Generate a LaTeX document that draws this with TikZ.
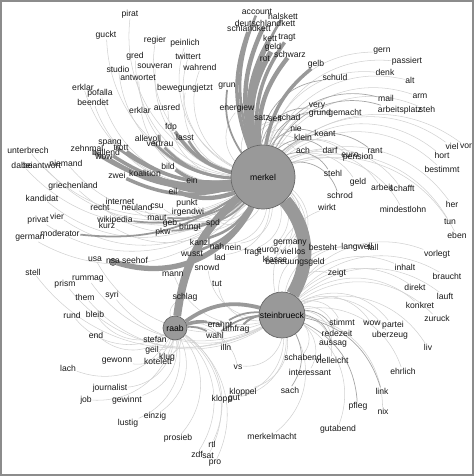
\documentclass[tikz,border=0pt]{standalone}
\usepackage{fontspec}
\setmainfont{Liberation Sans}
\usetikzlibrary{backgrounds}
\newcommand{\wordsize}{\fontsize{4.9}{5.5}\selectfont}

\begin{document}
\begin{tikzpicture}[
    x=0.02cm, y=-0.02cm,
    word/.style={inner sep=0.2pt, font=\wordsize, text=black!90},
    hub/.style={circle, draw=black!60, fill=black!40, inner sep=0pt, font=\wordsize},
    link/.style={draw=black!18, line width=0.3pt},
    linkd/.style={draw=black!35, line width=0.4pt},
    band/.style={draw=black!40}
]
    \useasboundingbox (0,0) rectangle (474,476);
    \draw[black!45, line width=1.2pt] (0.8,0.8) rectangle (473.2,475.2);

    % hubs
    \node[hub, minimum size=1.28cm] (merkel) at (263,177) {merkel};
    \node[hub, minimum size=0.92cm] (steinbrueck) at (282,315) {steinbrueck};
    \node[hub, minimum size=0.48cm] (raab) at (175,328) {raab};
    \node[hub, minimum size=0.14cm] (nsadot) at (113,262) {};
    \node[word] (nsa) at (113,261) {nsa};

    % top left
    \node[word] (pirat) at (130,14) {pirat};
    \node[word] (guckt) at (106,35) {guckt};
    \node[word] (regier) at (155,40) {regier};
    \node[word] (peinlich) at (185,43) {peinlich};
    \node[word] (twittert) at (188,56) {twittert};
    \node[word] (wahrend) at (200,67) {wahrend};
    \node[word] (gred) at (135,56) {gred};
    \node[word] (souveran) at (155,66) {souveran};
    \node[word] (studio) at (118,69) {studio};
    \node[word] (antwortet) at (138,78) {antwortet};
    \node[word] (bewegungjetzt) at (185,88) {bewegungjetzt};
    \node[word] (grun) at (227,86) {grun};
    \node[word] (erklar) at (83,87) {erklar};
    \node[word] (pofalla) at (100,93) {pofalla};
    \node[word] (beendet) at (93,102) {beendet};
    \node[word] (erklarb) at (140,110) {erklar};
    \node[word] (ausred) at (167,107) {ausred};
    \node[word] (energiew) at (237,108) {energiew};
    \node[word] (fdp) at (171,127) {fdp};
    \node[word] (lasst) at (185,137) {lasst};
    \node[word] (allevoll) at (148,138) {allevoll};
    \node[word] (vertrau) at (160,144) {vertrau};
    \node[word] (zehnmal) at (87,148) {zehnmal};
    \node[word] (spang) at (110,143) {spang};
    \node[word] (trott) at (121,148) {trott};
    \node[word] (ballend) at (106,152) {ballend};
    \node[word] (wow) at (104,157) {wow};
    \node[word] (unterbrech) at (28,150) {unterbrech};

    % top
    \node[word] (account) at (257,12) {account};
    \node[word] (halskett) at (283,16) {halskett};
    \node[word] (deutschlandkett) at (265,23) {deutschlandkett};
    \node[word] (schlandkett) at (249,28) {schlandkett};
    \node[word] (kett) at (270,38) {kett};
    \node[word] (tragt) at (287,38) {tragt};
    \node[word] (geld) at (273,47) {geld};
    \node[word] (schwarz) at (290,54) {schwarz};
    \node[word] (rot) at (265,59) {rot};
    \node[word] (gelb) at (316,64) {gelb};
    \node[word] (satz) at (262,118) {satz};
    \node[word] (seit) at (275,118) {seit};
    \node[word] (schad) at (289,117) {schad};
    \node[word] (very) at (317,106) {very};
    \node[word] (grund) at (320,113) {grund};
    \node[word] (gemacht) at (345,113) {gemacht};
    \node[word] (nie) at (296,128) {nie};
    \node[word] (klein) at (303,137) {klein};
    \node[word] (ach) at (303,150) {ach};

    % top right
    \node[word] (gern) at (382,51) {gern};
    \node[word] (passiert) at (407,61) {passiert};
    \node[word] (schuld) at (335,77) {schuld};
    \node[word] (denk) at (385,72) {denk};
    \node[word] (alt) at (410,80) {alt};
    \node[word] (mail) at (386,98) {mail};
    \node[word] (arm) at (420,96) {arm};
    \node[word] (arbeitsplatz) at (400,110) {arbeitsplatz};
    \node[word] (steh) at (427,109) {steh};
    \node[word] (koant) at (325,133) {koant};
    \node[word] (darf) at (330,150) {darf};
    \node[word] (rant) at (375,151) {rant};
    \node[word] (vielb) at (452,146) {viel};
    \node[word] (vor) at (466,146) {vor};
    \node[word] (hort) at (442,155) {hort};
    \node[word] (euro) at (350,155) {euro};
    \node[word] (pension) at (358,157) {pension};

    % right
    \node[word] (stehl) at (333,173) {stehl};
    \node[word] (bestimmt) at (442,169) {bestimmt};
    \node[word] (geldb) at (358,182) {geld};
    \node[word] (arbeit) at (382,187) {arbeit};
    \node[word] (schafft) at (402,188) {schafft};
    \node[word] (schrod) at (340,195) {schrod};
    \node[word] (her) at (452,204) {her};
    \node[word] (wirkt) at (327,207) {wirkt};
    \node[word] (mindestlohn) at (403,209) {mindestlohn};
    \node[word] (tun) at (450,222) {tun};
    \node[word] (eben) at (457,235) {eben};
    \node[word] (besteht) at (323,247) {besteht};
    \node[word] (langweil) at (357,247) {langweil};
    \node[word] (fall) at (373,247) {fall};
    \node[word] (vorlegt) at (437,254) {vorlegt};
    \node[word] (inhalt) at (405,267) {inhalt};
    \node[word] (zeigt) at (337,273) {zeigt};
    \node[word] (braucht) at (447,276) {braucht};
    \node[word] (direkt) at (415,287) {direkt};
    \node[word] (lauft) at (445,296) {lauft};
    \node[word] (konkret) at (420,305) {konkret};
    \node[word] (zuruck) at (437,318) {zuruck};

    % left
    \node[word] (dabei) at (22,165) {dabei};
    \node[word] (beantwort) at (42,165) {beantwort};
    \node[word] (niemand) at (66,163) {niemand};
    \node[word] (zwei) at (117,175) {zwei};
    \node[word] (koalition) at (145,173) {koalition};
    \node[word] (bild) at (168,166) {bild};
    \node[word] (ein) at (192,180) {ein};
    \node[word] (eil) at (173,191) {eil};
    \node[word] (griechenland) at (73,186) {griechenland};
    \node[word] (kandidat) at (42,198) {kandidat};
    \node[word] (internet) at (120,201) {internet};
    \node[word] (recht) at (100,207) {recht};
    \node[word] (neuland) at (137,207) {neuland};
    \node[word] (csu) at (157,206) {csu};
    \node[word] (punkt) at (187,203) {punkt};
    \node[word] (irgendwi) at (188,212) {irgendwi};
    \node[word] (maut) at (157,218) {maut};
    \node[word] (geb) at (170,223) {geb};
    \node[word] (bringt) at (190,227) {bringt};
    \node[word] (spd) at (213,223) {spd};
    \node[word] (pkw) at (163,232) {pkw};
    \node[word] (wikipedia) at (115,220) {wikipedia};
    \node[word] (kurz) at (107,225) {kurz};
    \node[word] (privat) at (38,220) {privat};
    \node[word] (vier) at (57,216) {vier};
    \node[word] (moderator) at (60,233) {moderator};
    \node[word] (german) at (30,238) {german};
    \node[word] (usa) at (95,259) {usa};
    \node[word] (seehof) at (135,260) {seehof};
    \node[word] (stell) at (33,272) {stell};
    \node[word] (rummag) at (88,279) {rummag};
    \node[word] (prism) at (65,284) {prism};
    \node[word] (them) at (85,297) {them};
    \node[word] (syri) at (112,295) {syri};
    \node[word] (rund) at (72,315) {rund};
    \node[word] (bleib) at (95,314) {bleib};

    % centre
    \node[word] (kanzl) at (200,242) {kanzl};
    \node[word] (nah) at (217,246) {nah};
    \node[word] (nein) at (233,247) {nein};
    \node[word] (wusst) at (192,254) {wusst};
    \node[word] (lad) at (220,257) {lad};
    \node[word] (snowd) at (207,267) {snowd};
    \node[word] (fragt) at (253,252) {fragt};
    \node[word] (europ) at (268,251) {europ};
    \node[word] (germany) at (290,243) {germany};
    \node[word] (viel) at (287,251) {viel};
    \node[word] (los) at (300,251) {los};
    \node[word] (klasse) at (275,259) {klasse};
    \node[word] (betreuungsgeld) at (295,262) {betreuungsgeld};
    \node[word] (mann) at (173,274) {mann};
    \node[word] (tut) at (217,284) {tut};
    \node[word] (schlag) at (185,297) {schlag};

    % bottom
    \node[word] (erahnt) at (220,324) {erahnt};
    \node[word] (umfrag) at (236,329) {umfrag};
    \node[word] (wahl) at (215,335) {wahl};
    \node[word] (illn) at (226,347) {illn};
    \node[word] (vs) at (238,367) {vs};
    \node[word] (schabend) at (303,357) {schabend};
    \node[word] (vielleicht) at (332,360) {vielleicht};
    \node[word] (interessant) at (310,372) {interessant};
    \node[word] (sach) at (290,390) {sach};
    \node[word] (kloppel) at (243,392) {kloppel};
    \node[word] (klopp) at (222,399) {klopp};
    \node[word] (gut) at (234,399) {gut};
    \node[word] (merkelmacht) at (272,436) {merkelmacht};
    \node[word] (prosieb) at (178,438) {prosieb};
    \node[word] (rtl) at (212,444) {rtl};
    \node[word] (zdf) at (197,454) {zdf};
    \node[word] (sat) at (208,456) {sat};
    \node[word] (pro) at (215,463) {pro};
    \node[word] (end) at (96,335) {end};
    \node[word] (stefan) at (155,339) {stefan};
    \node[word] (geil) at (152,350) {geil};
    \node[word] (gewonn) at (117,361) {gewonn};
    \node[word] (kotelett) at (158,361) {kotelett};
    \node[word] (klug) at (167,357) {klug};
    \node[word] (lach) at (68,368) {lach};
    \node[word] (journalist) at (110,388) {journalist};
    \node[word] (job) at (86,400) {job};
    \node[word] (gewinnt) at (127,400) {gewinnt};
    \node[word] (einzig) at (155,416) {einzig};
    \node[word] (lustig) at (128,423) {lustig};

    % bottom right
    \node[word] (stimmt) at (342,322) {stimmt};
    \node[word] (wowb) at (372,323) {wow};
    \node[word] (partei) at (393,325) {partei};
    \node[word] (redezeit) at (337,333) {redezeit};
    \node[word] (uberzeug) at (390,335) {uberzeug};
    \node[word] (aussag) at (333,344) {aussag};
    \node[word] (liv) at (428,347) {liv};
    \node[word] (ehrlich) at (403,371) {ehrlich};
    \node[word] (link) at (382,391) {link};
    \node[word] (pfleg) at (358,406) {pfleg};
    \node[word] (nix) at (383,411) {nix};
    \node[word] (gutabend) at (338,429) {gutabend};

    \begin{scope}[on background layer]
    % thin links
    \foreach \w in {gern, passiert, denk, alt, arm, steh, vor, vielb, hort, euro, pension, bestimmt, geldb, arbeit, schafft, her, mindestlohn, tun, eben, grund, nie, klein, ach, satz, seit, schad, energiew, pirat, guckt, regier, peinlich, twittert, wahrend, gred, souveran, studio, antwortet, bewegungjetzt, erklar, pofalla, beendet, erklarb, ausred, unterbrech, dabei, beantwort, niemand, griechenland, kandidat, internet, recht, neuland, csu, punkt, irgendwi, geb, spd, kurz, privat, vier, german, nah, nein, lad, fragt, europ, germany, viel, los, klasse, betreuungsgeld}
        \draw[link] (merkel) to[bend left=40] (\w);
    \foreach \w in {schuld, mail, arbeitsplatz, koant, darf, rant, very, gemacht, stehl, schrod}
        \draw[linkd] (merkel) to[bend left=40] (\w);
    \foreach \w in {stimmt, wowb, partei, redezeit, uberzeug, aussag, liv, ehrlich, nix, gutabend, schabend, vielleicht, interessant, merkelmacht, kloppel, klopp, gut, vs, zuruck, konkret, lauft, direkt, zeigt, inhalt, braucht, wirkt, fall, langweil, besteht, vorlegt, usa, rummag, prism, them, syri, stell, mann, tut, snowd}
        \draw[link] (steinbrueck) to[bend left=40] (\w);
    \foreach \w in {link, pfleg, sach, aussag, redezeit}
        \draw[linkd] (steinbrueck) to[bend left=30] (\w);
    \foreach \w in {geil, kotelett, klug, end, rund, bleib, gewonn, lach, journalist, job, gewinnt, einzig, lustig, prosieb, rtl, zdf, sat, pro, illn, vs, schlag}
        \draw[link] (raab) to[bend left=40] (\w);

    % thick bundles
    \foreach \w/\lw in {account/1.5, halskett/1.5, deutschlandkett/2.5, schlandkett/2, kett/3, tragt/2, geld/3, schwarz/2.5, rot/3, gelb/2, grun/1}
        \draw[band, line width=\lw pt] (merkel) to[bend left=20] (\w);
    \foreach \w/\lw in {zehnmal/2, spang/1.5, trott/2, ballend/2, wow/2.5, koalition/3, zwei/2, fdp/2, lasst/1.5, allevoll/1.5, vertrau/1.5, bild/2, ein/2, eil/2.5, moderator/1, wikipedia/1, maut/1, bringt/1, pkw/1, kanzl/1.5, wusst/1.5}
        \draw[band, line width=\lw pt] (merkel) to[bend left=20] (\w);
    \foreach \w/\lw in {erahnt/1.2, umfrag/1, wahl/1}
        \draw[band, line width=\lw pt] (raab) to[bend left=15] (\w);
    \foreach \w/\lw in {erahnt/1, umfrag/1.2, wahl/1}
        \draw[band, line width=\lw pt] (steinbrueck) to[bend right=15] (\w);
    \draw[band, line width=1pt] (raab) to[bend left=10] (stefan);
    \draw[band, line width=7.5pt] (merkel) to[bend left=35] (steinbrueck);
    \draw[band, line width=4.5pt] (merkel) to[bend right=20] (raab);
    \draw[band, line width=3pt] (merkel) to[bend left=40] (nsadot);
    \draw[band, line width=2.2pt] (raab) to[bend left=25] (steinbrueck);
    \end{scope}
\end{tikzpicture}
\end{document}
